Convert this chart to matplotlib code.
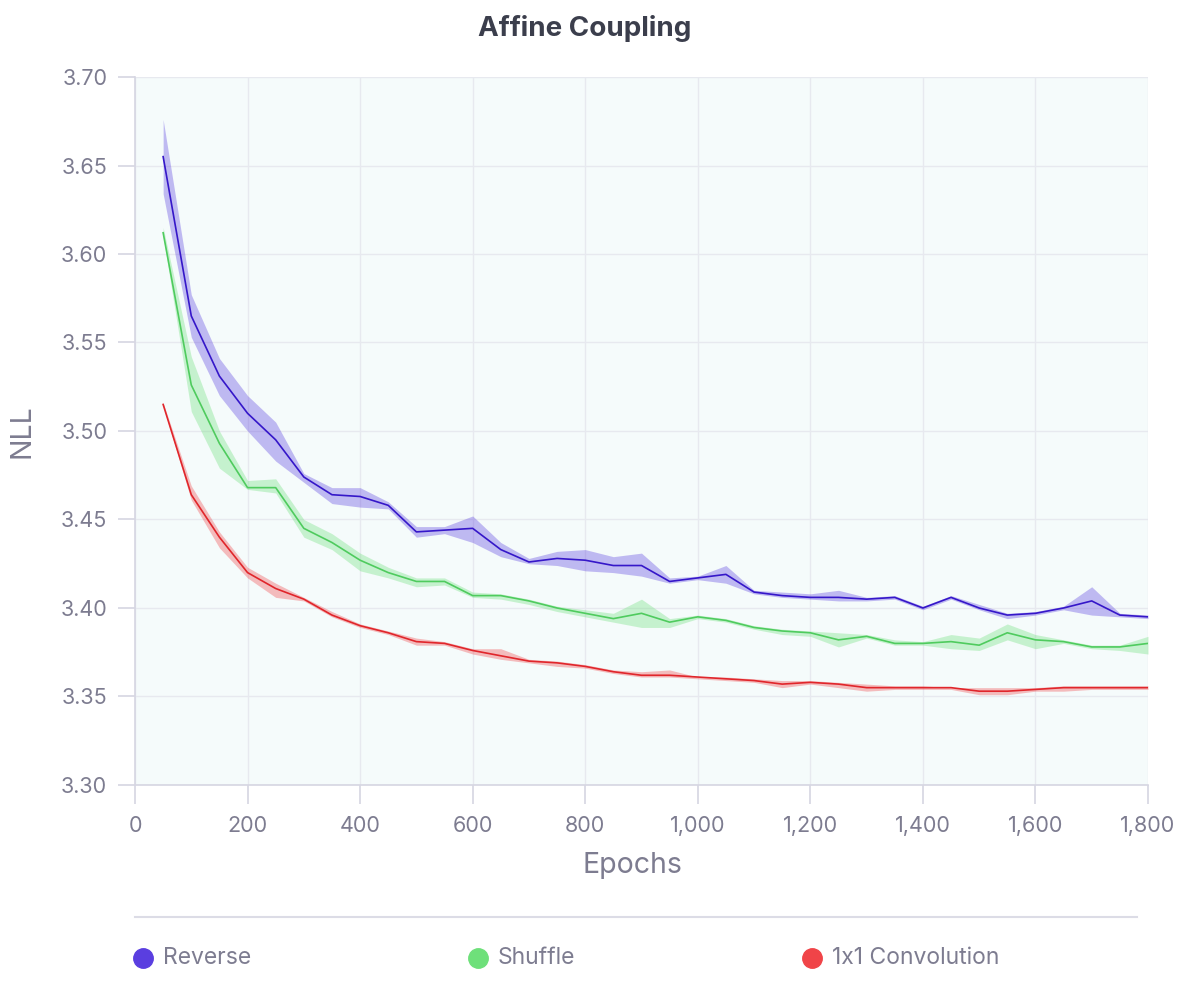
import matplotlib.pyplot as plt
from matplotlib.lines import Line2D
from matplotlib.ticker import FuncFormatter, MultipleLocator

plt.rcParams['font.family'] = ['Inter', 'DejaVu Sans']

epochs = [50, 100, 150, 200, 250, 300, 350, 400, 450, 500, 550, 600,
          650, 700, 750, 800, 850, 900, 950, 1000, 1050, 1100, 1150, 1200,
          1250, 1300, 1350, 1400, 1450, 1500, 1550, 1600, 1650, 1700, 1750, 1800]

reverse_mean = [3.655, 3.565, 3.531, 3.510, 3.495, 3.474, 3.464, 3.463, 3.458, 3.443, 3.444, 3.445,
                3.433, 3.426, 3.428, 3.427, 3.424, 3.424, 3.415, 3.417, 3.419, 3.409, 3.407, 3.406,
                3.406, 3.405, 3.406, 3.400, 3.406, 3.400, 3.396, 3.397, 3.400, 3.404, 3.396, 3.395]
reverse_low = [3.634, 3.553, 3.520, 3.500, 3.483, 3.471, 3.459, 3.457, 3.456, 3.440, 3.442, 3.437,
               3.429, 3.425, 3.424, 3.421, 3.420, 3.418, 3.414, 3.416, 3.414, 3.408, 3.406, 3.405,
               3.404, 3.404, 3.405, 3.399, 3.405, 3.399, 3.394, 3.396, 3.399, 3.396, 3.395, 3.394]
reverse_high = [3.676, 3.577, 3.541, 3.520, 3.505, 3.476, 3.468, 3.468, 3.460, 3.446, 3.446, 3.452,
                3.437, 3.428, 3.432, 3.433, 3.429, 3.431, 3.417, 3.418, 3.424, 3.410, 3.409, 3.408,
                3.410, 3.406, 3.407, 3.401, 3.407, 3.402, 3.397, 3.398, 3.401, 3.412, 3.397, 3.396]

shuffle_mean = [3.612, 3.526, 3.493, 3.468, 3.468, 3.445, 3.437, 3.427, 3.420, 3.415, 3.415, 3.407,
                3.407, 3.404, 3.400, 3.397, 3.394, 3.397, 3.392, 3.395, 3.393, 3.389, 3.387, 3.386,
                3.382, 3.384, 3.380, 3.380, 3.381, 3.379, 3.386, 3.382, 3.381, 3.378, 3.378, 3.380]
shuffle_low = [3.610, 3.511, 3.479, 3.467, 3.465, 3.440, 3.433, 3.421, 3.417, 3.412, 3.413, 3.406,
               3.405, 3.402, 3.398, 3.395, 3.392, 3.389, 3.389, 3.394, 3.392, 3.388, 3.385, 3.384,
               3.378, 3.383, 3.379, 3.379, 3.377, 3.376, 3.382, 3.377, 3.380, 3.377, 3.376, 3.374]
shuffle_high = [3.615, 3.542, 3.500, 3.472, 3.473, 3.450, 3.442, 3.431, 3.423, 3.417, 3.417, 3.409,
                3.408, 3.405, 3.401, 3.399, 3.397, 3.405, 3.394, 3.396, 3.394, 3.390, 3.388, 3.387,
                3.386, 3.385, 3.382, 3.381, 3.385, 3.383, 3.391, 3.385, 3.382, 3.379, 3.379, 3.384]

conv_mean = [3.515, 3.464, 3.440, 3.420, 3.411, 3.405, 3.396, 3.390, 3.386, 3.381, 3.380, 3.376,
             3.373, 3.370, 3.369, 3.367, 3.364, 3.362, 3.362, 3.361, 3.360, 3.359, 3.357, 3.358,
             3.357, 3.355, 3.355, 3.355, 3.355, 3.353, 3.353, 3.354, 3.355, 3.355, 3.355, 3.355]
conv_low = [3.514, 3.461, 3.434, 3.417, 3.406, 3.404, 3.395, 3.389, 3.385, 3.379, 3.379, 3.374,
            3.371, 3.369, 3.367, 3.366, 3.363, 3.361, 3.361, 3.360, 3.359, 3.358, 3.355, 3.357,
            3.355, 3.353, 3.354, 3.354, 3.354, 3.351, 3.351, 3.353, 3.353, 3.354, 3.354, 3.354]
conv_high = [3.516, 3.469, 3.443, 3.423, 3.414, 3.406, 3.398, 3.391, 3.387, 3.383, 3.381, 3.377,
             3.377, 3.371, 3.370, 3.368, 3.365, 3.364, 3.365, 3.361, 3.361, 3.360, 3.359, 3.359,
             3.358, 3.357, 3.356, 3.356, 3.355, 3.355, 3.355, 3.355, 3.356, 3.356, 3.356, 3.356]

series = [
    ('Reverse', reverse_mean, reverse_low, reverse_high, '#3517c9', '#5a3ee0'),
    ('Shuffle', shuffle_mean, shuffle_low, shuffle_high, '#4fcb5e', '#6ee07a'),
    ('1x1 Convolution', conv_mean, conv_low, conv_high, '#e0262b', '#f04448'),
]

text_color = '#7d7c90'
axis_color = '#d6d6e2'

fig = plt.figure(figsize=(12, 9.9), dpi=100)
ax = fig.add_axes([135 / 1200, 1 - 785 / 990, (1148 - 135) / 1200, (785 - 77) / 990])
ax.set_facecolor('#f5fbfb')

for name, mean, low, high, line_c, fill_c in series:
    ax.fill_between(epochs, low, high, color=fill_c, alpha=0.35, linewidth=0)
    ax.plot(epochs, mean, color=line_c, linewidth=1.2)

ax.set_xlim(0, 1800)
ax.set_ylim(3.30, 3.70)
ax.xaxis.set_major_locator(MultipleLocator(200))
ax.yaxis.set_major_locator(MultipleLocator(0.05))
ax.xaxis.set_major_formatter(FuncFormatter(lambda v, p: f"{v:,.0f}"))
ax.yaxis.set_major_formatter(FuncFormatter(lambda v, p: f"{v:.2f}"))
ax.grid(True, color='#e7e9ef', linewidth=1)
ax.set_axisbelow(True)

for side in ['top', 'right']:
    ax.spines[side].set_visible(False)
for side in ['left', 'bottom']:
    ax.spines[side].set_color(axis_color)
    ax.spines[side].set_linewidth(1.2)

ax.tick_params(axis='y', length=12, width=1.2, color=axis_color, labelcolor=text_color,
               labelsize=15.5, pad=8)
ax.tick_params(axis='x', length=14, width=1.2, color=axis_color, labelcolor=text_color,
               labelsize=15.5, pad=8)

ax.set_xlabel('Epochs', fontsize=20.5, color=text_color, labelpad=14)
ax.xaxis.set_label_coords(0.491, -0.095)
ax.set_ylabel('NLL', fontsize=20.5, color=text_color, labelpad=18)

fig.text(585 / 1200, 1 - 28 / 990, 'Affine Coupling', ha='center', va='center',
         fontsize=20, fontweight='bold', color='#3b3e4c')

# legend below the chart
fig.add_artist(Line2D([135 / 1200, 1137 / 1200], [1 - 917 / 990, 1 - 917 / 990],
                      color='#dcdce6', linewidth=1.5))
legend_x = [143, 478, 812]
for (name, mean, low, high, line_c, fill_c), lx in zip(series, legend_x):
    fig.add_artist(Line2D([lx / 1200], [1 - 958 / 990], marker='o', markersize=14,
                          color=fill_c, linestyle='none'))
    fig.text((lx + 20) / 1200, 1 - 958 / 990, name, ha='left', va='center',
             fontsize=16.5, color=text_color)

fig.savefig('out.png', dpi=100)
